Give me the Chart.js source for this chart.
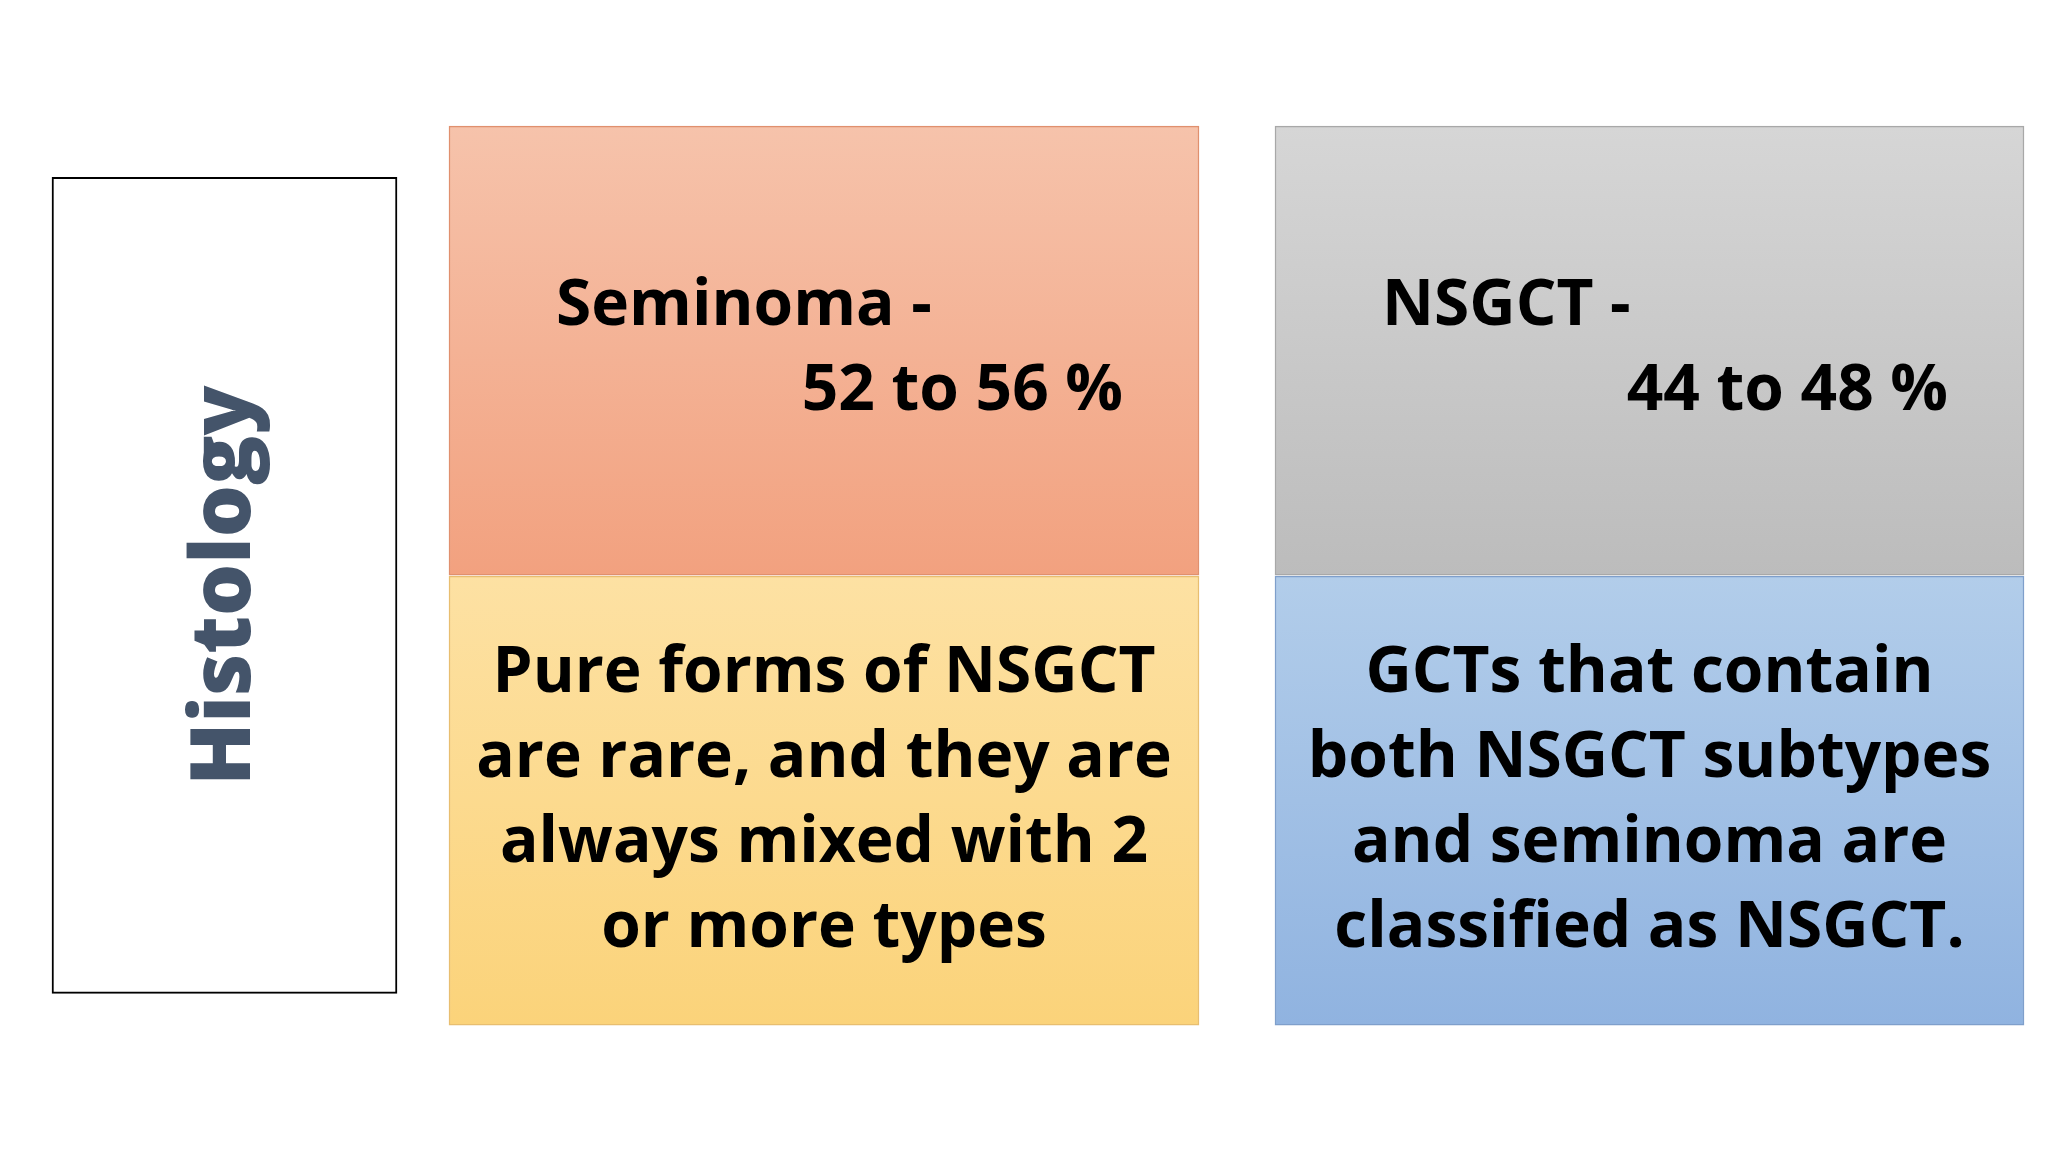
<!DOCTYPE html>
<html>
<head>
<meta charset="utf-8">
<script src="https://cdn.jsdelivr.net/npm/chart.js@4"></script>
<style>
  body { margin: 0; background: #fff; }
  canvas { display: block; }
</style>
</head>
<body>
<canvas id="myChart" width="2048" height="1152"></canvas>
<script>
// texts of each box
var titleText = "Histology"
var boxNames = ["Seminoma", "NSGCT", "Pure forms", "Mixed GCT"]
var boxLines = [
    ["Seminoma -", "52 to 56 %"],
    ["NSGCT -", "44 to 48 %"],
    ["Pure forms of NSGCT", "are rare, and they are", "always mixed with 2", "or more types"],
    ["GCTs that contain", "both NSGCT subtypes", "and seminoma are", "classified as NSGCT."]
]

// layout (canvas units)
var titleBox = { y: 587, x: [52, 397], h: 816 }
var boxY = [313, 313, 838, 838]
var boxX = [[449, 1199], [1275, 2024], [449, 1199], [1275, 2024]]
var boxH = 449
var topColors = ["#f6c3ab", "#d6d6d6", "#fde1a3", "#b2cdea"]
var bottomColors = ["#f2a17f", "#bcbcbc", "#fbd37a", "#90b3e0"]
var borderColors = ["#e0906e", "#a8a8a8", "#e8be70", "#7f9fcb"]

function gradient(c) {
    var chart = c.chart
    if (!chart.chartArea) return topColors[c.dataIndex]
    var yS = chart.scales.y
    var cy = yS.getPixelForValue(boxY[c.dataIndex])
    var g = chart.ctx.createLinearGradient(0, cy - boxH / 2, 0, cy + boxH / 2)
    g.addColorStop(0, topColors[c.dataIndex])
    g.addColorStop(1, bottomColors[c.dataIndex])
    return g
}

var textPlugin = {
    id: "boxText",
    afterDraw: function (chart) {
        var ctx = chart.ctx
        ctx.save()
        ctx.fillStyle = "#000"
        ctx.textBaseline = "middle"
        var meta = chart.getDatasetMeta(1)
        meta.data.forEach(function (bar, i) {
            var left = Math.min(bar.x, bar.base), right = Math.max(bar.x, bar.base)
            var top = bar.y - boxH / 2
            var lines = boxLines[i]
            ctx.font = "bold 64px 'Open Sans'"
            if (i < 2) {
                ctx.textAlign = "left"
                ctx.fillText(lines[0], left + 107, top + 181)
                ctx.textAlign = "right"
                ctx.fillText(lines[1], right - 76, top + 266)
            } else {
                ctx.textAlign = "center"
                lines.forEach(function (l, k) {
                    ctx.fillText(l, (left + right) / 2, top + 98 + k * 85, right - left - 40)
                })
            }
        })
        var t = chart.getDatasetMeta(0).data[0]
        ctx.translate((t.x + t.base) / 2 + 2, t.y)
        ctx.rotate(-Math.PI / 2)
        ctx.textAlign = "center"
        ctx.fillStyle = "#44546a"
        ctx.font = "800 84px 'Open Sans'"
        ctx.fillText(titleText, 0, 0, 400)
        ctx.restore()
    }
}

var ctx = document.getElementById('myChart').getContext('2d')
var myChart = new Chart(ctx, {
    type: 'bar',
    plugins: [textPlugin],
    data: {
        datasets: [{
                label: titleText,
                data: [{ y: titleBox.y, x: titleBox.x }],
                backgroundColor: "#ffffff",
                borderColor: "#000000",
                borderWidth: 2,
                borderSkipped: false,
                grouped: false,
                barThickness: titleBox.h
            }, {
                label: "boxes",
                data: boxNames.map(function (n, i) { return { y: boxY[i], x: boxX[i] } }),
                backgroundColor: gradient,
                borderColor: borderColors,
                borderWidth: 1.5,
                borderSkipped: false,
                grouped: false,
                barThickness: boxH
            }]
    },
    options: {
        indexAxis: 'y',
        responsive: false,
        animation: false,
        layout: { padding: 0 },
        plugins: { legend: { display: false }, tooltip: { enabled: false } },
        scales: {
            x: { type: 'linear', min: 0, max: 2048, display: false },
            y: { type: 'linear', min: 0, max: 1152, reverse: true, display: false }
        }
    }
})
</script>
</body>
</html>
